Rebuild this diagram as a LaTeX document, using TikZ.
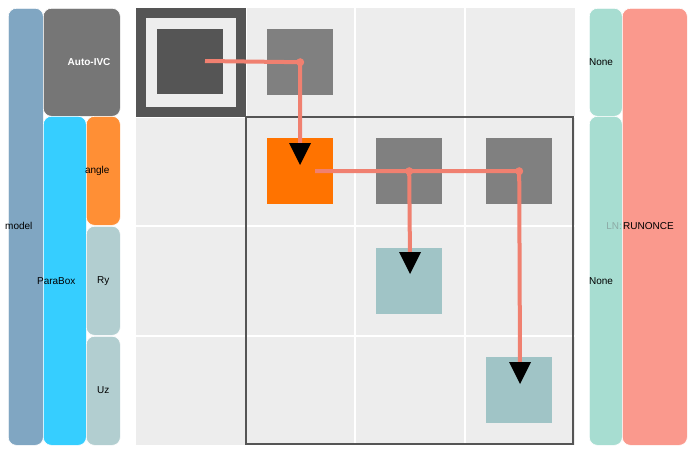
\documentclass[tikz,border=0pt]{standalone}
\usepackage{fontspec}
\setmainfont{Liberation Sans}
\definecolor{cellbg}{HTML}{EDEDED}
\definecolor{dk}{HTML}{555555}
\definecolor{salmon}{RGB}{240,128,112}
\definecolor{modelc}{RGB}{128,166,194}
\definecolor{ivcc}{RGB}{118,118,118}
\definecolor{pbc}{RGB}{54,206,255}
\definecolor{anglec}{RGB}{255,143,53}
\definecolor{tealc}{RGB}{178,206,208}
\definecolor{nonec}{RGB}{167,221,209}
\definecolor{roc}{RGB}{250,153,141}
\definecolor{grayc}{RGB}{128,128,128}
\definecolor{orc}{RGB}{255,115,0}
\definecolor{tsq}{RGB}{160,196,198}
\definecolor{lnc}{RGB}{140,170,165}
\begin{document}
\begin{tikzpicture}[x=1pt,y=-1pt,
  lbl/.style={font=\fontsize{10}{12}\selectfont},
  bar/.style={rounded corners=8pt,draw=white,line width=0.6pt},
  sq/.style={minimum size=66pt,inner sep=0pt,anchor=north west},
  conn/.style={draw=salmon,line width=4pt},
  tip/.style={fill=black},
  dot/.style={circle,fill=salmon,inner sep=0pt,minimum size=8pt}]
\useasboundingbox (0,0) rectangle (692,453);
\fill[white] (0,0) rectangle (692,453);
% grid
\fill[cellbg] (136,8) rectangle (575,445);
\foreach \v in {246,355,465} \draw[white,line width=1.5pt] (\v,8) -- (\v,445);
\foreach \v in {117,226,336} \draw[white,line width=1.5pt] (136,\v) -- (575,\v);
% left bars
\node[bar,fill=modelc,minimum width=35pt,minimum height=437pt,anchor=north west] (model) at (8,8) {};
\node[lbl,anchor=east] at (36,226) {model};
\node[bar,fill=ivcc,minimum width=77pt,minimum height=108pt,anchor=north west] (ivc) at (43,8) {};
\node[anchor=east,text=white,font=\bfseries\fontsize{10}{12}\selectfont] at (114,62) {Auto-IVC};
\node[bar,fill=pbc,minimum width=43pt,minimum height=329pt,anchor=north west] (pb) at (43,116) {};
\node[lbl,anchor=east] at (79,281) {ParaBox};
\node[bar,fill=anglec,minimum width=34pt,minimum height=109pt,anchor=north west] (angle) at (86,116) {};
\node[lbl,anchor=east] at (113,171) {angle};
\node[bar,fill=tealc,minimum width=34pt,minimum height=109pt,anchor=north west] (ry) at (86,226) {};
\node[lbl,anchor=east] at (113,281) {Ry};
\node[bar,fill=tealc,minimum width=34pt,minimum height=109pt,anchor=north west] (uz) at (86,336) {};
\node[lbl,anchor=east] at (113,390) {Uz};
% right bars
\node[bar,fill=nonec,minimum width=33pt,minimum height=108pt,anchor=north west] (n1) at (589,8) {};
\node[lbl] at (601,62) {None};
\node[bar,fill=nonec,minimum width=33pt,minimum height=329pt,anchor=north west] (n2) at (589,116) {};
\node[lbl] at (601,281) {None};
\node[bar,fill=roc,minimum width=65pt,minimum height=437pt,anchor=north west] (ro) at (622,8) {};
\node[lbl,text=lnc,anchor=east,inner xsep=1pt] at (623,226) {LN:};
\node[lbl,anchor=west,inner xsep=1pt] at (622,226) {RUNONCE};
% diagonal block
\draw[dk,line width=10pt] (141,13) rectangle (241,112);
\node[sq,fill=dk,minimum width=66pt,minimum height=65pt] (a) at (157,29) {};
\node[sq,fill=grayc] (b) at (267,29) {};
\node[sq,fill=orc] (c) at (267,138) {};
\node[sq,fill=grayc] (d) at (376,138) {};
\node[sq,fill=grayc] (e) at (486,138) {};
\node[sq,fill=tsq] (f) at (376,248) {};
\node[sq,fill=tsq] (g) at (486,357) {};
\draw[dk,line width=1.5pt] (246,117) rectangle (573,444);
% connectors
\coordinate (s1) at (205,61);
\coordinate (s2) at (315,171);
\draw[conn] (s1) -- (b.center) -- (300,150);
\fill[tip] (289,143) -- (311,143) -- (300,165) -- cycle;
\draw[conn] (s2) -- (e.center) -- (520,370);
\draw[conn] (d.center) -- (410,260);
\fill[tip] (399,252) -- (421,252) -- (410,274) -- cycle;
\fill[tip] (509,362) -- (531,362) -- (520,384) -- cycle;
\node[dot] at (b.center) {};
\node[dot] at (d.center) {};
\node[dot] at (e.center) {};
\end{tikzpicture}
\end{document}
